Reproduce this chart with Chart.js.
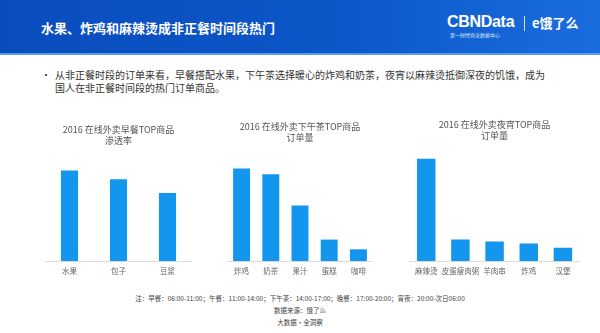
<!DOCTYPE html>
<html lang="zh-CN">
<head>
  <meta charset="UTF-8" />
  <title>非正餐时间段热门商品</title>
  <script src="https://cdn.jsdelivr.net/npm/chart.js"></script>
  <style>
    body { margin: 0; width: 600px; height: 333px; overflow: hidden; background: #fff;
           font-family: "Noto Sans CJK SC", "Noto Sans", sans-serif; position: relative; }
    #topo { position: absolute; left: 0; top: 0; width: 600px; height: 53px;
            background: linear-gradient(90deg, #0a4cbd 0%, #0c56c8 55%, #1a6ddf 100%);
            border-bottom: 2px solid #5a9ae6; }
    #titulo { position: absolute; left: 41px; top: 18px; color: #fff; font-size: 13px; font-weight: bold; }
    #cbn { position: absolute; left: 447px; top: 13px; color: #fff; font-family: "Liberation Sans", Arial, sans-serif;
           font-size: 16px; font-weight: bold; letter-spacing: -0.3px; }
    #cbnsub { position: absolute; left: 450px; top: 31px; color: #dce8ff; font-size: 5px; }
    #sep { position: absolute; left: 524px; top: 16px; width: 1px; height: 15px; background: #cfe0ff; }
    #ele { position: absolute; left: 532px; top: 13px; color: #fff; font-size: 13px; font-weight: bold; }
    #bullet { position: absolute; left: 41px; top: 68px; color: #333; font-size: 10px; line-height: 13px; }
    #bullet span.b { position: absolute; left: 0; top: 0; }
    #bullet div.t { margin-left: 14px; width: 498px; }
    canvas { position: absolute; }
    .nota { position: absolute; left: 0; width: 600px; text-align: center; color: #444; font-size: 6.5px; }
  </style>
</head>
<body>
  <div id="topo"></div>
  <div id="titulo">水果、炸鸡和麻辣烫成非正餐时间段热门</div>
  <div id="cbn">CBNData</div>
  <div id="cbnsub">第一财经商业数据中心</div>
  <div id="sep"></div>
  <div id="ele">e饿了么</div>

  <div id="bullet">
    <span class="b">•</span>
    <div class="t">从非正餐时段的订单来看，早餐搭配水果，下午茶选择暖心的炸鸡和奶茶，夜宵以麻辣烫抵御深夜的饥饿，成为国人在非正餐时间段的热门订单商品。</div>
  </div>

  <canvas id="graf1" width="147" height="170" style="left:45px; top:118px;"></canvas>
  <canvas id="graf2" width="146" height="174" style="left:227px; top:114px;"></canvas>
  <canvas id="graf3" width="171" height="176" style="left:409px; top:112px;"></canvas>

  <div class="nota" style="top:293px;">注：早餐：06:00-11:00；午餐：11:00-14:00；下午茶：14:00-17:00；晚餐：17:00-20:00；宵夜：20:00-次日06:00</div>
  <div class="nota" style="top:305px;">数据来源：饿了么</div>
  <div class="nota" style="top:317px;">大数据·全洞察</div>

  <script>
    // dados (valores relativos, sem escala visível)
    const catCafe = ['水果', '包子', '豆浆'];
    const valCafe = [93, 84, 70];
    const maxCafe = 108;

    const catTarde = ['炸鸡', '奶茶', '果汁', '蛋糕', '咖啡'];
    const valTarde = [95, 89, 57, 22, 12];
    const maxTarde = 111;

    const catNoite = ['麻辣烫', '皮蛋瘦肉粥', '羊肉串', '炸鸡', '汉堡'];
    const valNoite = [105, 22, 20, 18, 13.5];
    const maxNoite = 113;

    const azul = '#1296ee';
    const fonte = "'Noto Sans CJK SC', 'Noto Sans', sans-serif";

    function montaGrafico(id, titulo, cats, vals, maxY, barPct, padTop) {
      const ctx = document.getElementById(id).getContext('2d');
      return new Chart(ctx, {
        type: 'bar',
        data: {
          labels: cats,
          datasets: [{
            data: vals,
            backgroundColor: azul,
            barPercentage: barPct,
            categoryPercentage: 1
          }]
        },
        options: {
          responsive: false,
          animation: false,
          layout: { padding: { left: 0, right: 0, top: 0, bottom: 6 } },
          plugins: {
            legend: { display: false },
            tooltip: { enabled: false },
            title: {
              display: true,
              text: titulo,
              color: '#555',
              font: { family: fonte, size: 9, weight: 'normal', lineHeight: 1.22 },
              padding: { top: padTop, bottom: 10 }
            }
          },
          scales: {
            x: {
              grid: { display: false, drawTicks: false },
              border: { display: true, color: '#dcdcdc' },
              ticks: { color: '#666', font: { family: fonte, size: 7.5 }, padding: 6,
                       maxRotation: 0, minRotation: 0, autoSkip: false }
            },
            y: { display: false, min: 0, max: maxY }
          }
        }
      });
    }

    montaGrafico('graf1', ['2016 在线外卖早餐TOP商品', '渗透率'], catCafe, valCafe, maxCafe, 0.35, 6);
    montaGrafico('graf2', ['2016 在线外卖下午茶TOP商品', '订单量'], catTarde, valTarde, maxTarde, 0.58, 7);
    montaGrafico('graf3', ['2016 在线外卖夜宵TOP商品', '订单量'], catNoite, valNoite, maxNoite, 0.54, 7);
  </script>
</body>
</html>
